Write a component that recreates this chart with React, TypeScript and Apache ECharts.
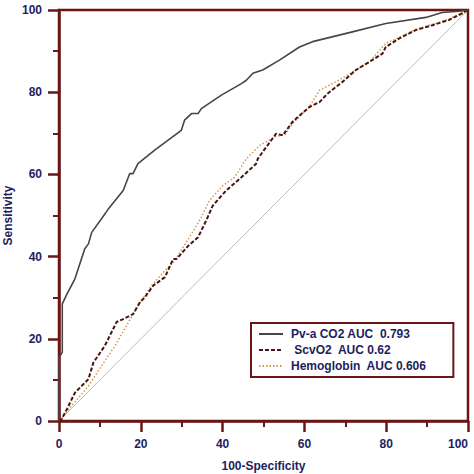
import React, { useEffect, useRef } from "react";
import * as echarts from "echarts";

// ROC curves: sensitivity vs 100-specificity
const pvaX = [0, 0, 0.8, 0.8, 2, 3.9, 6.3, 7.2, 8, 10.4, 12, 15.7, 17.3, 18.1, 19.3, 23.4, 29.9, 30.7, 32.4, 34, 34.8, 39.7, 44.6, 45.8, 47.4, 49.8, 53.9, 58.8, 62, 71, 79.9, 89.7, 93.7, 97.8, 100];
const pvaY = [0, 15.5, 16.7, 28.5, 31, 34.6, 41.9, 43.1, 45.9, 49.2, 51.5, 56.1, 60.2, 60.2, 62.6, 65.9, 70.7, 73.2, 74.8, 74.8, 76, 79.3, 82.1, 82.9, 84.6, 85.4, 87.8, 91, 92.3, 94.5, 96.7, 98.2, 99.4, 99.7, 100];

const scvX = [0, 0.6, 2, 3.9, 5.5, 7.2, 8.4, 11.2, 12.4, 14.1, 15.7, 18.1, 19.8, 21, 23, 25.9, 27.9, 28.7, 31.5, 34, 36, 37.6, 40.9, 44.6, 48.2, 48.6, 50.7, 53.1, 54.7, 57.1, 61.2, 63.7, 65.7, 69.3, 72.6, 75.9, 79.1, 79.9, 83.2, 87.2, 91.3, 95.4, 98.6, 100];
const scvY = [0, 0.4, 3, 6.9, 8.5, 10.2, 14.2, 18.3, 20.7, 24.1, 24.8, 26, 28.9, 30.1, 32.9, 35, 39.4, 39.4, 42.5, 44.7, 48.8, 52.4, 56.1, 59.3, 62.6, 63.8, 66.7, 69.9, 69.5, 72.8, 76.4, 77.6, 79.7, 82.5, 85.4, 87.4, 89.4, 91, 93.1, 95.1, 96.3, 97.6, 99.2, 100];

const hbX = [0, 0.5, 3.1, 7.2, 10.4, 13.7, 16.5, 19.3, 22.6, 25.9, 28.3, 30.5, 32.8, 34.8, 36.8, 40.1, 42.9, 45.8, 49, 52.7, 55.3, 57.1, 61.2, 63.7, 67.7, 72.6, 75.9, 79.1, 79.9, 83.2, 87.2, 91.3, 95.4, 98.6, 100];
const hbY = [0, 0.4, 3.7, 8.5, 13.4, 18.3, 23.2, 28, 32.9, 36.6, 39, 42.5, 46.2, 49.6, 53.7, 57.3, 59.3, 63.8, 67, 69.1, 69.7, 72.4, 76.4, 80.5, 82.5, 85.4, 87.4, 91, 91.9, 93.3, 95.3, 96.5, 97.8, 99.4, 100];

const seriesNames = ["Pv-a CO2", "ScvO2", "Hemoglobin"];
const legendLabels = ["Pv-a CO2 AUC  0.793", " ScvO2  AUC 0.62", "Hemoglobin  AUC 0.606"];
const refX = [0, 100];
const refY = [0, 100];

const xTicks = [0, 20, 40, 60, 80, 100];

const zip = (xs: number[], ys: number[]) => xs.map((x, i) => [x, ys[i]]);

const AXIS = "#6a1616";
const NAVY = "#1e1e60";
const FONT = "Liberation Sans, Arial, sans-serif";

export default function App() {
  const ref = useRef<HTMLDivElement>(null);

  useEffect(() => {
    if (!ref.current) return;
    const chart = echarts.init(ref.current, undefined, { renderer: "svg" });
    const axisCommon = {
      type: "value" as const,
      min: xTicks[0],
      max: xTicks[xTicks.length - 1],
      interval: 20,
      axisLine: { show: true, lineStyle: { color: AXIS, width: 2.5 } },
      axisTick: { show: true, inside: false, length: 11, lineStyle: { color: AXIS, width: 2.5 } },
      minorTick: { show: true, splitNumber: 2, length: 6, lineStyle: { color: AXIS, width: 2 } },
      splitLine: { show: false },
      nameTextStyle: { color: NAVY, fontWeight: "bold" as const, fontSize: 12, fontFamily: FONT },
      nameLocation: "middle" as const,
      nameMoveOverlap: false,
    };
    const labelStyle = { color: NAVY, fontWeight: "bold" as const, fontSize: 12, fontFamily: FONT, margin: 17 };
    const labelOf: Record<string, string> = {};
    seriesNames.forEach((n, i) => (labelOf[n] = legendLabels[i]));

    chart.setOption({
      animation: false,
      backgroundColor: "#ffffff",
      grid: {
        left: 59,
        right: 6,
        top: 10,
        bottom: 53,
        containLabel: false,
        outerBoundsMode: "none",
        show: true,
        borderColor: AXIS,
        borderWidth: 2.5,
        backgroundColor: "transparent",
      },
      xAxis: {
        ...axisCommon,
        name: "100-Specificity",
        nameGap: 39,
        axisLabel: { ...labelStyle, alignMaxLabel: "right" },
      },
      yAxis: { ...axisCommon, name: "Sensitivity", nameGap: 45, axisLabel: labelStyle },
      legend: {
        data: seriesNames,
        orient: "vertical",
        left: 251,
        top: 323,
        padding: [5, 27, 5, 7],
        itemWidth: 24,
        itemHeight: 12,
        itemGap: 4,
        backgroundColor: "#ffffff",
        borderColor: AXIS,
        borderWidth: 2,
        itemStyle: { opacity: 0 },
        formatter: (name: string) => labelOf[name],
        textStyle: { color: NAVY, fontWeight: "bold", fontSize: 12, fontFamily: FONT, padding: [0, 0, 0, 3] },
      },
      series: [
        {
          name: "ref",
          type: "line",
          data: zip(refX, refY),
          symbol: "none",
          lineStyle: { color: "#bdbdbd", width: 1 },
          silent: true,
        },
        {
          name: seriesNames[2],
          type: "line",
          data: zip(hbX, hbY),
          symbol: "none",
          color: "#d09a4c",
          lineStyle: { color: "#d09a4c", width: 1.5, type: [1.5, 2] },
        },
        {
          name: seriesNames[1],
          type: "line",
          data: zip(scvX, scvY),
          symbol: "none",
          color: "#4a1414",
          lineStyle: { color: "#4a1414", width: 2, type: [4, 2] },
        },
        {
          name: seriesNames[0],
          type: "line",
          data: zip(pvaX, pvaY),
          symbol: "none",
          color: "#4a4444",
          lineStyle: { color: "#4a4444", width: 1.6 },
        },
      ],
    });
    return () => chart.dispose();
  }, []);

  return (
    <div
      ref={ref}
      style={{ position: "fixed", left: 0, top: 0, width: 474, height: 474, background: "#fff" }}
    />
  );
}
